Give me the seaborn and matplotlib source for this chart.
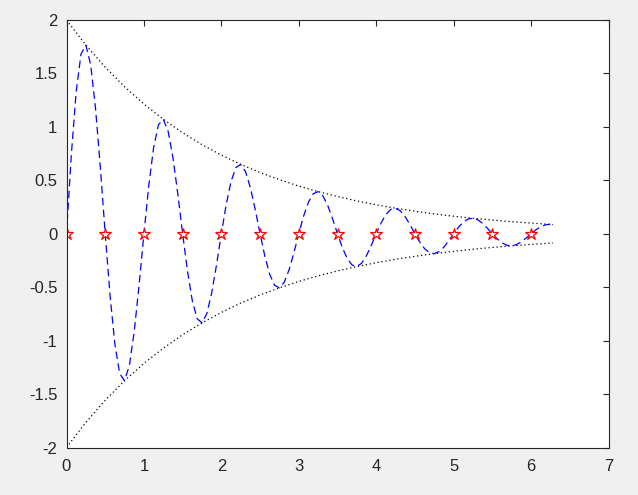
import matplotlib
matplotlib.use("Agg")
import matplotlib.pyplot as plt
import numpy as np
import seaborn as sns

t_wave = [
    0.0, 0.0625, 0.125, 0.1875, 0.25, 0.3125, 0.375, 0.4375,
    0.5, 0.5625, 0.625, 0.6875, 0.75, 0.8125, 0.875, 0.9375,
    1.0, 1.0625, 1.125, 1.1875, 1.25, 1.3125, 1.375, 1.4375,
    1.5, 1.5625, 1.625, 1.6875, 1.75, 1.8125, 1.875, 1.9375,
    2.0, 2.0625, 2.125, 2.1875, 2.25, 2.3125, 2.375, 2.4375,
    2.5, 2.5625, 2.625, 2.6875, 2.75, 2.8125, 2.875, 2.9375,
    3.0, 3.0625, 3.125, 3.1875, 3.25, 3.3125, 3.375, 3.4375,
    3.5, 3.5625, 3.625, 3.6875, 3.75, 3.8125, 3.875, 3.9375,
    4.0, 4.0625, 4.125, 4.1875, 4.25, 4.3125, 4.375, 4.4375,
    4.5, 4.5625, 4.625, 4.6875, 4.75, 4.8125, 4.875, 4.9375,
    5.0, 5.0625, 5.125, 5.1875, 5.25, 5.3125, 5.375, 5.4375,
    5.5, 5.5625, 5.625, 5.6875, 5.75, 5.8125, 5.875, 5.9375,
    6.0, 6.0625, 6.125, 6.1875, 6.25, 6.2832,
]
y_wave = [
    0.0, 0.742, 1.329, 1.682, 1.765, 1.580, 1.172, 0.615,
    0.0, -0.578, -1.035, -1.310, -1.375, -1.231, -0.913, -0.479,
    0.0, 0.450, 0.806, 1.020, 1.071, 0.959, 0.711, 0.373,
    0.0, -0.350, -0.628, -0.795, -0.834, -0.747, -0.554, -0.291,
    0.0, 0.273, 0.489, 0.619, 0.649, 0.581, 0.431, 0.226,
    0.0, -0.213, -0.381, -0.482, -0.506, -0.453, -0.336, -0.176,
    0.0, 0.166, 0.296, 0.375, 0.394, 0.353, 0.262, 0.137,
    0.0, -0.129, -0.231, -0.292, -0.307, -0.275, -0.204, -0.107,
    0.0, 0.100, 0.180, 0.228, 0.239, 0.214, 0.159, 0.083,
    0.0, -0.078, -0.140, -0.177, -0.186, -0.167, -0.124, -0.065,
    0.0, 0.061, 0.109, 0.138, 0.145, 0.130, 0.096, 0.050,
    0.0, -0.047, -0.085, -0.108, -0.113, -0.101, -0.075, -0.039,
    0.0, 0.037, 0.066, 0.084, 0.088, 0.085,
]

# decay envelope
t_env = [
    0.0, 0.25, 0.5, 0.75, 1.0, 1.25, 1.5, 1.75, 2.0, 2.25, 2.5, 2.75, 3.0,
    3.25, 3.5, 3.75, 4.0, 4.25, 4.5, 4.75, 5.0, 5.25, 5.5, 5.75, 6.0, 6.25,
    6.2832,
]
env_upper = [
    2.000, 1.765, 1.558, 1.375, 1.213, 1.071, 0.945, 0.834, 0.736, 0.649,
    0.573, 0.506, 0.446, 0.394, 0.348, 0.307, 0.271, 0.239, 0.211, 0.186,
    0.164, 0.145, 0.128, 0.113, 0.0996, 0.0879, 0.0864,
]
env_lower = [-v for v in env_upper]

# zero crossings marked with stars
t_star = [0.0, 0.5, 1.0, 1.5, 2.0, 2.5, 3.0, 3.5, 4.0, 4.5, 5.0, 5.5, 6.0]
y_star = [0.0] * len(t_star)

x_ticks = [0, 1, 2, 3, 4, 5, 6, 7]
y_ticks = [-2, -1.5, -1, -0.5, 0, 0.5, 1, 1.5, 2]
y_ticklabels = ["-2", "-1.5", "-1", "-0.5", "0", "0.5", "1", "1.5", "2"]

sns.set_style("white")
plt.rcParams["font.family"] = ["Liberation Sans", "DejaVu Sans"]

fig = plt.figure(figsize=(6.38, 4.95), dpi=100, facecolor="#f0f0f0")
ax = fig.add_axes([66.5 / 638, 1 - 447.5 / 495, (608.5 - 66.5) / 638, (447.5 - 20) / 495])
ax.set_facecolor("white")

sns.lineplot(x=t_env, y=env_upper, ax=ax, color="black", linestyle=(0, (1, 2.2)),
             linewidth=0.9, sort=False, estimator=None)
sns.lineplot(x=t_env, y=env_lower, ax=ax, color="black", linestyle=(0, (1, 2.2)),
             linewidth=0.9, sort=False, estimator=None)
sns.lineplot(x=t_wave, y=y_wave, ax=ax, color="#0000ff", linestyle=(0, (6, 3.5)),
             linewidth=0.9, sort=False, estimator=None)
ax.plot(t_star, y_star, linestyle="none", marker="*", markersize=9,
        markerfacecolor="white", markeredgecolor="red", markeredgewidth=0.9)

ax.set_xlim(0, 7)
ax.set_ylim(-2, 2)
ax.set_xticks(x_ticks)
ax.set_xticklabels([str(v) for v in x_ticks])
ax.set_yticks(y_ticks)
ax.set_yticklabels(y_ticklabels)
ax.tick_params(direction="in", length=4, width=0.8, colors="#262626",
               labelsize=12, top=True, right=True)
ax.tick_params(axis="x", pad=8)
ax.tick_params(axis="y", pad=6.5)
for side in ax.spines.values():
    side.set_visible(True)
    side.set_color("#262626")
    side.set_linewidth(0.8)

fig.savefig("out.png", dpi=100, facecolor=fig.get_facecolor())
